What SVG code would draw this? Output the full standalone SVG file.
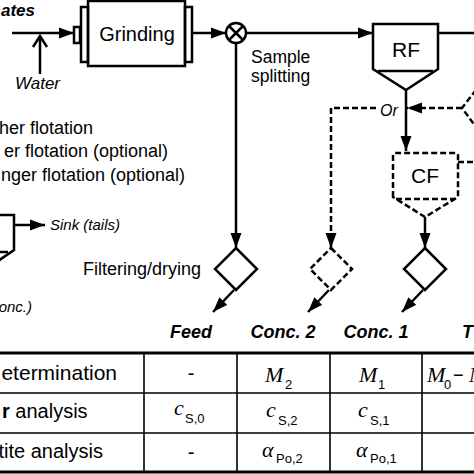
<svg xmlns="http://www.w3.org/2000/svg" width="474" height="474" viewBox="0 0 474 474">
<style>
text{font-family:"Liberation Sans",Arial,sans-serif;fill:#000}
.ln{fill:none;stroke:#000;stroke-width:2.5}
.ds{fill:none;stroke:#000;stroke-width:2.5;stroke-dasharray:6,3}
.it{font-style:italic}
.bi{font-style:italic;font-weight:bold}
.m{font-family:"Liberation Serif","Times New Roman",serif;font-style:italic;font-size:22px}
.sb{font-size:13px}
.tb{stroke:#000;stroke-width:1.6;fill:none}
.tk{stroke:#000;stroke-width:3;fill:none}
</style>
<defs>
<marker id="a" markerUnits="userSpaceOnUse" markerWidth="16" markerHeight="12" refX="15" refY="6" orient="auto">
<path d="M0,0.5 L15,6 L0,11.5 Z" fill="#000"/>
</marker>
</defs>
<rect width="474" height="474" fill="#fff"/>

<g id="texts-left">
<text class="bi" x="1" y="16" font-size="17">ates</text>
<text class="it" x="15" y="89" font-size="17">Water</text>
<text x="93" y="134" font-size="18" text-anchor="end">her flotation</text>
<text x="168" y="157" font-size="18" text-anchor="end">er flotation (optional)</text>
<text x="185" y="181" font-size="18" text-anchor="end">nger flotation (optional)</text>
<text class="it" x="50" y="230" font-size="15">Sink (tails)</text>
<text class="it" x="32" y="312" font-size="15" text-anchor="end">onc.)</text>
</g>

<g id="grinding">
<rect x="74" y="27" width="6" height="16" class="ln" fill="#fff"/>
<rect x="81" y="7" width="7" height="55" class="ln"/>
<rect x="88" y="1" width="97" height="65" class="ln"/>
<rect x="185" y="7" width="7" height="55" class="ln"/>
<text x="137" y="41" font-size="20" text-anchor="middle">Grinding</text>
</g>

<g id="splitter">
<circle cx="236" cy="33" r="10" class="ln"/>
<path d="M229,26 L243,40 M243,26 L229,40" class="ln"/>
<text x="251" y="63" font-size="17.5">Sample</text>
<text x="251" y="82" font-size="17.5">splitting</text>
</g>

<g id="rf">
<path d="M373,24 H438 V69 L406,90 L373,69 Z" class="ln"/>
<path d="M378,71 H433" class="ln"/>
<text x="406" y="57" font-size="21" text-anchor="middle">RF</text>
</g>

<g id="cf">
<path d="M393,197 V155 Q393,153 395,153 H456 Q458,153 458,155 V197 L425,217 L393,197 Z" class="ds"/>
<path d="M396,199 H455" class="ds"/>
<text x="425" y="183" font-size="21" text-anchor="middle">CF</text>
</g>

<g id="left-cell">
<path d="M-5,215 H14 V250 L-2,261" class="ln"/>
<path d="M-2,252 H8" class="ln"/>
</g>

<g id="right-cell">
<path d="M476,90 L462,108 L476,127" class="ds"/>
</g>

<g id="d-feed">
<polygon points="236,248 257,269 236,290 215,269" class="ln"/>
<text x="83" y="275" font-size="18">Filtering/drying</text>
</g>
<g id="d-conc2">
<polygon points="331,248 352,269 331,290 310,269" class="ds"/>
</g>
<g id="d-conc1">
<polygon points="425,248 446,269 425,290 404,269" class="ln"/>
</g>

<g id="connectors">
<path d="M12,33 H74" class="ln" marker-end="url(#a)"/>
<path d="M40,74 V37 M33,47 L40,36 L47,47" class="ln"/>
<path d="M192,33 H226" class="ln" marker-end="url(#a)"/>
<path d="M246,33 H373" class="ln" marker-end="url(#a)"/>
<path d="M438,33 H476" class="ln"/>
<path d="M236,43 V248" class="ln" marker-end="url(#a)"/>
<path d="M406,90 V151" class="ln" marker-end="url(#a)"/>
<path d="M462,108 H407" class="ds" marker-end="url(#a)"/>
<path d="M376,108 H331 V248" class="ds" marker-end="url(#a)"/>
<path d="M458,162 H476" class="ds"/>
<path d="M425,217 V248" class="ln" marker-end="url(#a)"/>
<path d="M14,225 H45" class="ln" marker-end="url(#a)"/>
<path d="M234,290 L213,312" class="ln" marker-end="url(#a)"/>
<path d="M329,290 L308,312" class="ln" marker-end="url(#a)"/>
<path d="M423,290 L402,312" class="ln" marker-end="url(#a)"/>
<text class="it" x="380" y="116" font-size="16">Or</text>
</g>

<g id="table">
<text class="bi" x="191" y="338" font-size="18" text-anchor="middle">Feed</text>
<text class="bi" x="283" y="338" font-size="18" text-anchor="middle">Conc. 2</text>
<text class="bi" x="376" y="338" font-size="18" text-anchor="middle">Conc. 1</text>
<text class="bi" x="462" y="338" font-size="18">T</text>
<path d="M0,353 H474 M0,472 H474" class="tk"/>
<path d="M0,393 H474 M0,433 H474 M144,353 V472 M237,353 V472 M330,353 V472 M422,353 V472" class="tb"/>
<text x="117" y="380" font-size="21" text-anchor="end">etermination</text>
<text x="2" y="418" font-size="20"><tspan font-weight="bold">r</tspan> analysis</text>
<text x="103" y="458" font-size="20" text-anchor="end">tite analysis</text>
<text x="191" y="380" font-size="20" text-anchor="middle">-</text>
<text x="191" y="459" font-size="20" text-anchor="middle">-</text>
<text class="m" x="174" y="415">c</text><text class="sb" x="185" y="423">S,0</text>
<text class="m" x="265" y="382">M</text><text class="sb" x="285" y="389">2</text>
<text class="m" x="266" y="417">c</text><text class="sb" x="278" y="425">S,2</text>
<text class="m" x="262" y="457">α</text><text class="sb" x="276" y="463">Po,2</text>
<text class="m" x="359" y="382">M</text><text class="sb" x="378" y="389">1</text>
<text class="m" x="358" y="417">c</text><text class="sb" x="370" y="425">S,1</text>
<text class="m" x="356" y="457">α</text><text class="sb" x="370" y="463">Po,1</text>
<text class="m" x="427" y="382">M</text><text class="sb" x="444" y="389">0</text>
<text x="453" y="381" font-size="18">−</text>
<text class="m" x="469" y="382">M</text>
</g>
</svg>
